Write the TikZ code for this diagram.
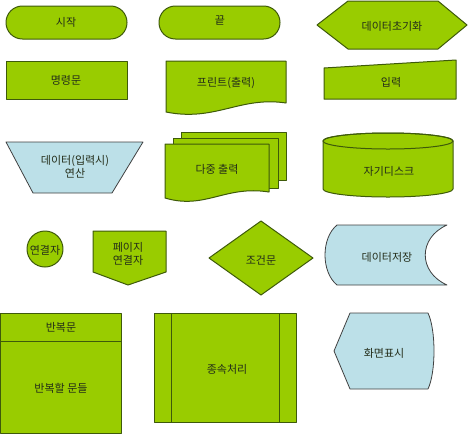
\documentclass[tikz,border=0pt]{standalone}
\usepackage{fontspec}
\setmainfont{Noto Sans CJK KR}
\definecolor{boxgreen}{RGB}{153,204,0}
\definecolor{edgegreen}{RGB}{62,90,10}
\definecolor{paleblue}{RGB}{188,224,232}
\definecolor{labelgray}{RGB}{35,45,25}
\tikzset{
  greenshape/.style={draw=edgegreen, fill=boxgreen, line width=1pt, line join=round},
  blueshape/.style={draw=black!75, fill=paleblue, line width=0.8pt, line join=round},
  lbl/.style={text=labelgray, font=\fontsize{11}{13.5}\selectfont, align=center, inner sep=0pt}
}

\begin{document}
\begin{tikzpicture}[x=1pt, y=-1pt]
\useasboundingbox (0,0) rectangle (474,440);
% row 1
\draw [greenshape, rounded corners=16.4pt] (6,6) rectangle (127,39);
\draw [greenshape, rounded corners=16.4pt] (159,6) rectangle (280,39);
\draw [greenshape] (317,25) -- (348,1) -- (438,1) -- (467,25) -- (438,49) -- (348,49) -- cycle;
\node [lbl] (start) at (66,22) {시작};
\node [lbl] (finish) at (220,21) {끝};
\node [lbl] (init) at (392,26) {데이터초기화};
% row 2
\draw [greenshape] (6,61) rectangle (127,99);
\draw [greenshape] (166,61) -- (286,61) -- (286,103) .. controls (240,96) and (215,122) .. (166,112) -- cycle;
\draw [greenshape] (324,68) -- (456,60) -- (456,99) -- (324,99) -- cycle;
\node [lbl] (command) at (66,80) {명령문};
\node [lbl] (print) at (226,83) {프린트(출력)};
\node [lbl] (input) at (391,82) {입력};
% row 3
\draw [blueshape] (6,142) -- (143,142) -- (112,193) -- (33,193) -- cycle;
\draw [greenshape] (181,132) -- (286,132) -- (286,180) -- (181,180) -- cycle;
\draw [greenshape] (173,138) -- (278,138) -- (278,188) -- (173,188) -- cycle;
\draw [greenshape] (165,144) -- (269,144) -- (269,192) .. controls (225,185) and (205,210) .. (165,198) -- cycle;
\draw [greenshape] (323,141) -- (323,189) arc [start angle=180, end angle=360, x radius=65pt, y radius=8pt] -- (453,141) arc [start angle=0, end angle=180, x radius=65pt, y radius=8pt] -- cycle;
\draw [draw=edgegreen, line width=1pt] (388,141) ellipse [x radius=65pt, y radius=8pt];
\node [lbl] (operation) at (75,167) {데이터(입력시)\\연산};
\node [lbl] (multiprint) at (217,169) {다중 출력};
\node [lbl] (disk) at (389,171) {자기디스크};
% row 4
\draw [greenshape] (45,249) circle [radius=18pt];
\draw [greenshape] (93,231) -- (166,231) -- (166,272) -- (128,285) -- (93,272) -- cycle;
\draw [greenshape] (209,258) -- (261,221) -- (313,258) -- (261,295) -- cycle;
\draw [blueshape] (337,225) -- (447,225) .. controls (418,238) and (418,272) .. (447,285) -- (337,285) .. controls (321,272) and (321,238) .. (337,225) -- cycle;
\node [lbl] (connector) at (45,250) {연결자};
\node [lbl] (pageconn) at (128,254) {페이지\\연결자};
\node [lbl] (decision) at (261,260) {조건문};
\node [lbl] (storage) at (387,257) {데이터저장};
% row 5
\draw [greenshape] (0.5,313) rectangle (121,433);
\draw [draw=edgegreen, line width=1pt] (0.5,341) -- (121,341);
\draw [greenshape] (154,313) rectangle (296,422);
\draw [draw=edgegreen, line width=1pt] (171,313) -- (171,422);
\draw [draw=edgegreen, line width=1pt] (279,313) -- (279,422);
\draw [blueshape] (334,351) -- (350,313) -- (428,313) .. controls (436,330) and (436,372) .. (428,389) -- (350,389) -- cycle;
\node [lbl] (loop) at (61,327) {반복문};
\node [lbl] (loopbody) at (61,388) {반복할 문들};
\node [lbl] (subproc) at (227,369) {종속처리};
\node [lbl] (display) at (384,353) {화면표시};
\end{tikzpicture}
\end{document}
